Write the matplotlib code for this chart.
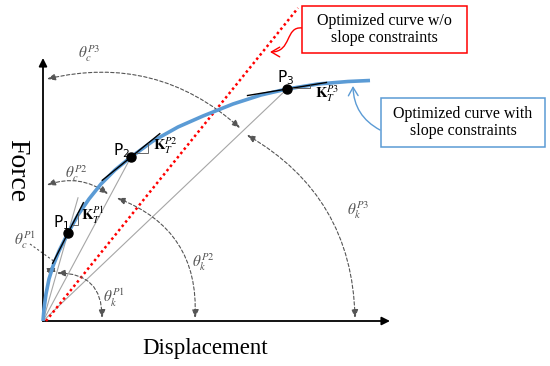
import numpy as np
import matplotlib.pyplot as plt
from matplotlib.patches import Rectangle, Polygon, FancyArrowPatch
from matplotlib.path import Path

# curve data (diagram units, origin at axes origin)
curve_x = [0, 1, 3, 6, 10, 16, 25, 35, 46, 58, 72, 88, 110, 135, 160, 190, 218, 244, 275, 305, 327]
curve_y = [0, 12, 27, 42, 55, 70, 88, 106, 122, 137, 151, 164, 180, 194, 205, 217, 226, 232, 237, 239.5, 240.5]

# red straight line (w/o slope constraints)
red_x = [3, 255]
red_y = [0, 313]

# points P1..P3 and their tangent slopes
pt_names = ["1", "2", "3"]
pt_x = [25, 88, 244]
pt_y = [88, 164, 232]
tan_slope = [1.97, 0.81, 0.165]
tan_half = [34, 37, 40]
secant_ext = [1.4, 1.0, 1.0]

# angle arcs: start, end, rad
arc_start = [(197, 193), (204, 186), (65, 127), (74, 123), (13, 53), (14, 48)]
arc_end = [(4, 242), (312, 3), (4, 136), (152, 3), (3, 49), (59, 3)]
arc_rad = [0.26, -0.28, 0.26, -0.36, 0.0, -0.5]

theta_labels = [r"$\theta_c^{P3}$", r"$\theta_k^{P3}$", r"$\theta_c^{P2}$",
                r"$\theta_k^{P2}$", r"$\theta_c^{P1}$", r"$\theta_k^{P1}$"]
theta_pos = [(35, 263), (304, 106), (22, 143), (149, 54), (-29, 76), (60, 18)]

BLUE = "#5b9bd5"
GRAY = "#555555"

fig = plt.figure(figsize=(5.5, 3.66), dpi=100)
ax = fig.add_axes([0, 0, 1, 1])
ax.set_xlim(-43, 507)
ax.set_ylim(-45, 321)
ax.axis("off")

# axes arrows
ax.annotate("", xy=(0, 263), xytext=(0, 0),
            arrowprops=dict(arrowstyle="-|>", lw=1.3, color="k", mutation_scale=12,
                            shrinkA=0, shrinkB=0))
ax.annotate("", xy=(347, 0), xytext=(0, 0),
            arrowprops=dict(arrowstyle="-|>", lw=1.3, color="k", mutation_scale=12,
                            shrinkA=0, shrinkB=0))

# secant lines
for px, py, f in zip(pt_x, pt_y, secant_ext):
    ax.plot([0, px * f], [0, py * f], color="#a6a6a6", lw=0.8, zorder=2)

# red dotted line
ax.plot(red_x, red_y, color="red", lw=1.8, linestyle=(0, (1, 1.2)), zorder=3)

# blue curve
ax.plot(curve_x, curve_y, color=BLUE, lw=2.6, solid_capstyle="butt", zorder=4)

# tangents, slope triangles, points, labels
tri_off = [4, 5, 5]
tri_w = [6, 12, 18]
p_lab = [(10, 94), (70, 166), (234, 239)]
k_lab = [(38, 101), (110, 171), (272, 223)]
for i in range(3):
    px, py, s, h = pt_x[i], pt_y[i], tan_slope[i], tan_half[i]
    dx = h / np.sqrt(1 + s ** 2)
    ax.plot([px - dx, px + dx], [py - dx * s, py + dx * s], color="k", lw=1.0, zorder=5)
    a, w = tri_off[i], tri_w[i]
    tri = [(px + a, py + a * s), (px + a + w, py + a * s), (px + a + w, py + (a + w) * s)]
    ax.add_patch(Polygon(tri, closed=False, fill=False, ec="#666666", lw=0.7, zorder=5))
    ax.plot(px, py, "o", color="k", ms=6.5, zorder=6)
    ax.text(p_lab[i][0], p_lab[i][1], "P$_{%s}$" % pt_names[i], fontsize=11,
            ha="left", va="baseline", math_fontfamily="dejavusans", zorder=7)
    ax.text(k_lab[i][0], k_lab[i][1], r"$\mathbf{K}_T^{P%s}$" % pt_names[i], fontsize=10.5,
            ha="left", va="baseline", math_fontfamily="stix", zorder=7)

# angle arcs
for a0, a1, r in zip(arc_start, arc_end, arc_rad):
    ax.annotate("", xy=a1, xytext=a0,
                arrowprops=dict(arrowstyle="<|-|>,head_length=0.5,head_width=0.2",
                                connectionstyle="arc3,rad=%s" % r, lw=0.8,
                                linestyle=(0, (3, 2)), color=GRAY, mutation_scale=10,
                                shrinkA=0, shrinkB=0))
# leader for theta_c^P1
ax.plot([-13, 12], [77, 59], color=GRAY, lw=0.8, linestyle=(0, (2, 2)))

for lab, pos in zip(theta_labels, theta_pos):
    ax.text(pos[0], pos[1], lab, fontsize=11, color="#555555", ha="left", va="baseline",
            math_fontfamily="stix")

# axis titles
ax.text(-26, 150, "Force", rotation=270, fontsize=20, family="Liberation Serif",
        ha="center", va="center")
ax.text(162, -33, "Displacement", fontsize=16.5, family="Liberation Serif",
        ha="center", va="baseline")

# callout boxes
ax.add_patch(Rectangle((259, 268), 165, 47, fill=True, fc="white", ec="red", lw=1.1, zorder=8))
ax.text(341.5, 291.5, "Optimized curve w/o\nslope constraints", fontsize=11.5,
        family="Liberation Serif", ha="center", va="center", linespacing=1.15, zorder=9)
ax.add_patch(Rectangle((338, 174), 164, 49, fill=True, fc="white", ec=BLUE, lw=1.1, zorder=8))
ax.text(420, 198.5, "Optimized curve with\nslope constraints", fontsize=11.5,
        family="Liberation Serif", ha="center", va="center", linespacing=1.15, zorder=9)

# red wavy leader
red_path = Path([(259, 293), (242, 295), (249, 269), (227, 269)],
                [Path.MOVETO, Path.CURVE4, Path.CURVE4, Path.CURVE4])
ax.add_patch(FancyArrowPatch(path=red_path, arrowstyle="->,head_length=0.6,head_width=0.35",
                             color="red", lw=1.0, mutation_scale=10, zorder=7))
# blue leader
ax.annotate("", xy=(310, 235), xytext=(337, 191),
            arrowprops=dict(arrowstyle="->,head_length=0.6,head_width=0.35",
                            connectionstyle="arc3,rad=-0.29", color=BLUE, lw=1.0,
                            mutation_scale=10, shrinkA=0, shrinkB=0))

fig.savefig("out.png", dpi=100)
